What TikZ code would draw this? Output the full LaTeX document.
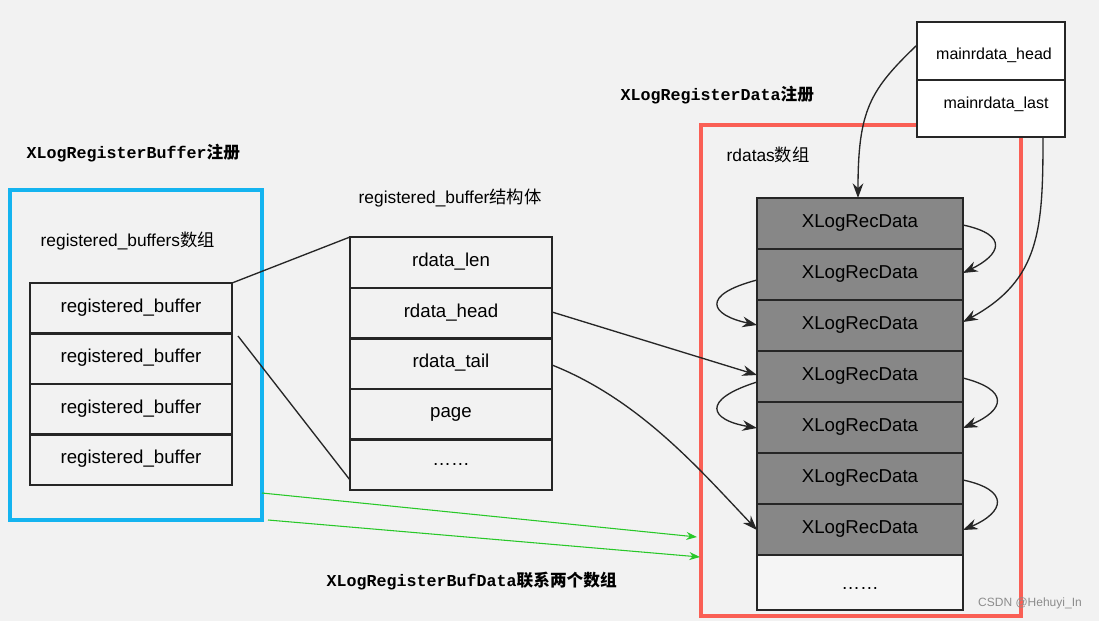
\documentclass[tikz,border=0pt]{standalone}
\usepackage{fontspec}
\setmainfont{Liberation Sans}
\newfontfamily\cjk{Noto Sans CJK SC}
\newfontfamily\mono{Liberation Mono}
\usetikzlibrary{arrows.meta}
\definecolor{bluebox}{RGB}{20,180,240}
\definecolor{redbox}{RGB}{250,95,85}
\definecolor{greenarr}{RGB}{40,200,40}
\definecolor{darkcell}{RGB}{135,135,135}
\begin{document}
\begin{tikzpicture}[x=0.75pt,y=-0.75pt,
  title/.style={font=\mono\bfseries\fontsize{12.5}{14}\selectfont,anchor=west},
  lab/.style={font=\fontsize{13}{15}\selectfont,anchor=west},
  celltext/.style={font=\fontsize{14}{16}\selectfont},
  arr/.style={-{Stealth[length=11pt,width=8pt]},line width=1pt,black!85},
  garr/.style={-{Stealth[length=8pt,width=6pt]},line width=0.8pt,greenarr}]
\fill[black!5] (0,0) rectangle (1099,621);
\useasboundingbox (0,0) rectangle (1099,621);
% titles
\node[title] (t1) at (22,153) {XLogRegisterBuffer{\cjk 注册}};
\node[title] (t2) at (616,95) {XLogRegisterData{\cjk 注册}};
\node[title] (t3) at (322,581) {XLogRegisterBufData{\cjk 联系两个数组}};
% blue box
\draw[bluebox,line width=2.5pt] (10,190) rectangle (262,520);
\node[lab] (l1) at (36,241) {registered\_buffers{\cjk 数组}};
% left array
\foreach \i/\y in {1/283,2/333,3/384,4/434}{
  \draw[black!85,line width=1pt] (30,\y) rectangle (232,\y+51);
  \node[celltext] (rb\i) at (131,\y+25) {registered\_buffer};
}
% middle struct
\node[lab] (l2) at (354,198) {registered\_buffer{\cjk 结构体}};
\foreach \i/\y/\t in {1/237/{rdata\_len},2/288/{rdata\_head},3/338/{rdata\_tail},4/389/{page},5/439/{\ldots\ldots}}{
  \draw[black!85,line width=1pt] (350,\y) rectangle (552,\y+51);
  \node[celltext] (ms\i) at (451,\y+25) {\t};
}
\coordinate (lt) at (232,283);
\coordinate (lb) at (238,336);
\coordinate (mt) at (350,237);
\coordinate (mb) at (350,480);
\draw[black!85,line width=1pt] (lt) -- (mt);
\draw[black!85,line width=1pt] (lb) -- (mb);
% red box
\draw[redbox,line width=2.5pt] (701,125) rectangle (1021,616);
\node[lab] (l3) at (722,155) {rdatas{\cjk 数组}};
% rdata array
\foreach \i/\y in {1/198,2/249,3/300,4/351,5/402,6/453,7/504}{
  \draw[black!85,line width=1pt,fill=darkcell] (757,\y) rectangle (963,\y+51);
  \node[celltext] (rd\i) at (860,\y+25) {XLogRecData};
}
\draw[black!85,line width=1pt,fill=black!4] (757,555) rectangle (963,610);
\node[celltext] (rd8) at (860,588) {\ldots\ldots};
% mainrdata box
\draw[black!85,line width=1pt,fill=white] (917,22) rectangle (1065,137);
\draw[black!85,line width=1pt] (917,80) -- (1065,80);
\node[font=\fontsize{12}{14}\selectfont] (mh) at (994,55) {mainrdata\_head};
\node[font=\fontsize{12}{14}\selectfont] (ml) at (996,104) {mainrdata\_last};
\draw[arr] (917,45) .. controls (870,90) and (858,110) .. (858,198);
\draw[arr] (1043,137) .. controls (1043,230) and (1040,280) .. (963,322);
% chain arrows right
\draw[arr] (963,225) .. controls (1010,235) and (1000,255) .. (963,273);
\draw[arr] (963,378) .. controls (1010,390) and (1005,410) .. (963,428);
\draw[arr] (963,480) .. controls (1010,490) and (1005,512) .. (963,530);
% chain arrows left
\draw[arr] (757,280) .. controls (700,295) and (710,315) .. (757,325);
\draw[arr] (757,382) .. controls (700,400) and (710,420) .. (757,428);
% from struct
\draw[arr] (552,312) -- (757,375);
\draw[arr] (552,365) .. controls (640,400) and (700,470) .. (757,530);
% green
\draw[garr] (262,493) -- (697,537);
\draw[garr] (268,520) -- (700,557);
\node[font=\fontsize{9}{11}\selectfont,text=black!45] (wm) at (1030,603) {CSDN @Hehuyi\_In};
\end{tikzpicture}
\end{document}
